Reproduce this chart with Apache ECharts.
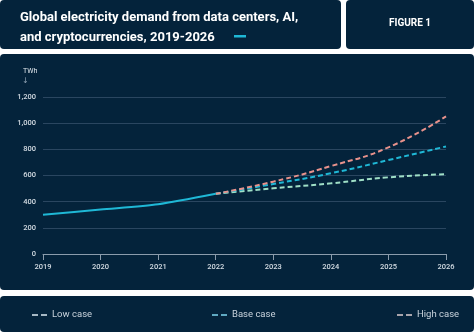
<!DOCTYPE html>
<html><head><meta charset="utf-8">
<script src="https://cdn.jsdelivr.net/npm/echarts@6/dist/echarts.min.js"></script>
<style>html,body{margin:0;padding:0;background:#fff}#c{width:474px;height:332px}</style>
</head><body><div id="c"></div>
<script>
var years = ['2019','2020','2021','2022','2023','2024','2025','2026'];
var historical = [300, 340, 380, 460, null, null, null, null];
var lowCase = [null, null, null, 460, 502, 540, 586, 610];
var baseCase = [null, null, null, 460, 535, 617, 718, 822];
var highCase = [null, null, null, 460, 553, 672, 815, 1052];
var seriesNames = ['Low case', 'Base case', 'High case'];

var NAVY = '#04233b';
var chart = echarts.init(document.getElementById('c'));
var FONT = 'Roboto';
function legendFor(name, left, color) {
  return {
    data: [name], left: left, top: 305, itemWidth: 15, itemHeight: 3, itemGap: 4,
    icon: 'path://M0,0h6v2h-6z M9,0h6v2h-6z',
    textStyle: {color: '#c9d3dc', fontSize: 9.5, fontFamily: FONT},
    itemStyle: {color: color}
  };
}
chart.setOption({
  backgroundColor: '#ffffff',
  animation: false,
  graphic: [
    {type: 'rect', shape: {x: 0, y: 0, width: 341, height: 49, r: 4}, style: {fill: NAVY}, z: -10},
    {type: 'rect', shape: {x: 346, y: 0, width: 128, height: 49, r: 4}, style: {fill: NAVY}, z: -10},
    {type: 'rect', shape: {x: 0, y: 54, width: 474, height: 236, r: 4}, style: {fill: NAVY}, z: -10},
    {type: 'rect', shape: {x: 0, y: 296, width: 474, height: 36, r: 4}, style: {fill: NAVY}, z: -10},
    {type: 'text', left: 20, top: 8, style: {text: 'Global electricity demand from data centers, AI,\nand cryptocurrencies, 2019-2026', fill: '#ffffff', font: 'bold 13px Roboto', lineHeight: 20}},
    {type: 'rect', shape: {x: 234, y: 35, width: 12, height: 2.5}, style: {fill: '#1fb8d6'}},
    {type: 'text', left: 389, top: 18, style: {text: 'FIGURE 1', fill: '#ffffff', font: 'bold 10px Roboto'}},
    {type: 'text', left: 23, top: 68, style: {text: 'TWh', fill: '#dfe6ec', font: '7px Roboto'}},
    {type: 'text', left: 22, top: 77, style: {text: '↓', fill: '#8fa2b3', font: '8px DejaVu Sans'}}
  ],
  grid: {left: 43, right: 28, top: 97, bottom: 78},
  xAxis: {
    type: 'category', data: years, boundaryGap: false,
    axisLine: {lineStyle: {color: '#8b9cac', width: 1}},
    axisTick: {show: true, length: 6, lineStyle: {color: '#8b9cac'}},
    axisLabel: {color: '#d5dde4', fontSize: 7.5, fontFamily: FONT, margin: 9, fontWeight: 500}
  },
  yAxis: {
    type: 'value', min: 0, max: 1200, interval: 200,
    axisLine: {show: false}, axisTick: {show: false},
    splitLine: {lineStyle: {color: '#2a4660', width: 1}},
    axisLabel: {color: '#d5dde4', fontSize: 7.5, fontFamily: FONT, margin: 7, fontWeight: 500,
      formatter: function (v) { return v >= 1000 ? String(v).replace(/(\d)(\d{3})$/, '$1,$2') : String(v); }}
  },
  legend: [
    legendFor('Low case', 27, '#a6b8c4'),
    legendFor('Base case', 207, '#5fa9c2'),
    legendFor('High case', 392, '#a8a4ab')
  ],
  series: [
    {name: 'Historical', type: 'line', data: historical, smooth: 0.25, symbol: 'none',
      lineStyle: {color: '#1fb8d6', width: 2}, z: 5},
    {name: seriesNames[0], type: 'line', data: lowCase, smooth: true, symbol: 'none',
      lineStyle: {color: '#9fdfc6', width: 2, type: [5, 3]}, itemStyle: {color: '#9fdfc6'}},
    {name: seriesNames[1], type: 'line', data: baseCase, smooth: true, symbol: 'none',
      lineStyle: {color: '#1fb8d6', width: 2, type: [5, 3]}, itemStyle: {color: '#1fb8d6'}},
    {name: seriesNames[2], type: 'line', data: highCase, smooth: true, symbol: 'none',
      lineStyle: {color: '#e8928c', width: 2, type: [5, 3]}, itemStyle: {color: '#e8928c'}}
  ]
});
</script></body></html>
